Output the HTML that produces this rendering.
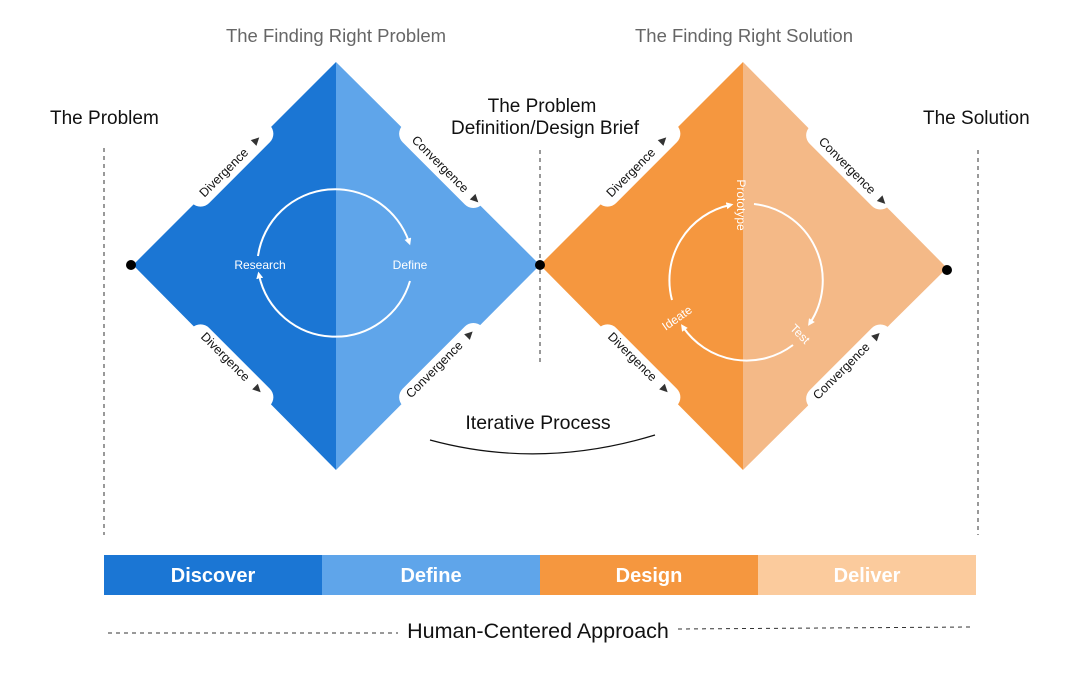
<!DOCTYPE html>
<html><head><meta charset="utf-8"><style>
html,body{margin:0;padding:0;background:#fff;}
svg{display:block;font-family:"Liberation Sans",sans-serif;}
</style></head><body>
<svg width="1073" height="675" viewBox="0 0 1073 675" xmlns="http://www.w3.org/2000/svg">
<defs>
<marker id="wa" viewBox="0 0 10 10" refX="5" refY="5" markerWidth="3.5" markerHeight="3.5" orient="auto"><path d="M0,0 L10,5 L0,10 z" fill="#fff"/></marker>
</defs>
<polygon points="133,265 336,62 336,470" fill="#1b76d4"/>
<polygon points="336,62 540,265 336,470" fill="#5fa5ea"/>
<polygon points="540,265 743,62 743,470" fill="#f5973f"/>
<polygon points="743,62 947,268 743,470" fill="#f4b987"/>

<g font-size="12.5" fill="#111" text-anchor="middle">
<g transform="translate(234.5,163.5) rotate(-45)"><rect x="-58" y="-30" width="110" height="40" rx="12" fill="#fff"/><text x="-14" y="3">Divergence</text><path d="M28,-5 l8,4 l-8,4z" fill="#333"/></g>
<g transform="translate(438,163.5) rotate(45)"><rect x="-52" y="-30" width="112" height="40" rx="12" fill="#fff"/><text x="2" y="3">Convergence</text><path d="M48,-5 l8,4 l-8,4z" fill="#333"/></g>
<g transform="translate(234.5,367.5) rotate(45)"><rect x="-58" y="-10" width="110" height="40" rx="12" fill="#fff"/><text x="-14" y="3">Divergence</text><path d="M28,-5 l8,4 l-8,4z" fill="#333"/></g>
<g transform="translate(438,367.5) rotate(-45)"><rect x="-52" y="-10" width="112" height="40" rx="12" fill="#fff"/><text x="-4" y="3">Convergence</text><path d="M42,-5 l8,4 l-8,4z" fill="#333"/></g>
<g transform="translate(641.5,163.5) rotate(-45)"><rect x="-58" y="-30" width="110" height="40" rx="12" fill="#fff"/><text x="-14" y="3">Divergence</text><path d="M28,-5 l8,4 l-8,4z" fill="#333"/></g>
<g transform="translate(845,165) rotate(45)"><rect x="-52" y="-30" width="112" height="40" rx="12" fill="#fff"/><text x="2" y="3">Convergence</text><path d="M48,-5 l8,4 l-8,4z" fill="#333"/></g>
<g transform="translate(641.5,367.5) rotate(45)"><rect x="-58" y="-10" width="110" height="40" rx="12" fill="#fff"/><text x="-14" y="3">Divergence</text><path d="M28,-5 l8,4 l-8,4z" fill="#333"/></g>
<g transform="translate(845,369) rotate(-45)"><rect x="-52" y="-10" width="112" height="40" rx="12" fill="#fff"/><text x="-4" y="3">Convergence</text><path d="M42,-5 l8,4 l-8,4z" fill="#333"/></g>
</g>

<g fill="none" stroke="#fff" stroke-width="2">
<path d="M258,256 A78,78 0 0 1 409,242" marker-end="url(#wa)"/>
<path d="M410,281 A78,78 0 0 1 259,275" marker-end="url(#wa)"/>
</g>
<g fill="#fff" font-size="12" text-anchor="middle">
<text x="260" y="269">Research</text><text x="410" y="269">Define</text>
</g>
<g fill="none" stroke="#fff" stroke-width="2">
<path d="M754,204 A77,77 0 0 1 810,323" marker-end="url(#wa)"/>
<path d="M793,345 A77,77 0 0 1 683,327" marker-end="url(#wa)"/>
<path d="M672,300 A77,77 0 0 1 730,205" marker-end="url(#wa)"/>
</g>
<g fill="#fff" font-size="12" text-anchor="middle">
<text transform="translate(741,205) rotate(90)" x="0" y="4">Prototype</text>
<text transform="translate(800,334) rotate(45)" x="0" y="4">Test</text>
<text transform="translate(677,318) rotate(-35)" x="0" y="4">Ideate</text>
</g>

<g stroke="#333" stroke-width="1" stroke-dasharray="4,4">
<line x1="104" y1="148" x2="104" y2="535"/>
<line x1="540" y1="150" x2="540" y2="365"/>
<line x1="978" y1="150" x2="978" y2="535"/>
<line x1="108" y1="633" x2="398" y2="633"/>
<line x1="678" y1="629" x2="970" y2="627"/>
</g>
<circle cx="131" cy="265" r="5" fill="#000"/>
<circle cx="540" cy="265" r="5" fill="#000"/>
<circle cx="947" cy="270" r="5" fill="#000"/>

<path d="M430,440 Q540,470 655,435" fill="none" stroke="#111" stroke-width="1.2"/>

<g font-size="19" fill="#111">
<text x="336" y="42" text-anchor="middle" fill="#666" font-size="18.5">The Finding Right Problem</text>
<text x="744" y="42" text-anchor="middle" fill="#666" font-size="18.5">The Finding Right Solution</text>
<text x="50" y="124">The Problem</text>
<text x="923" y="124">The Solution</text>
<text x="542" y="112" text-anchor="middle">The Problem</text>
<text x="545" y="134" text-anchor="middle">Definition/Design Brief</text>
<text x="538" y="429" text-anchor="middle" font-size="19.5">Iterative Process</text>
<text x="538" y="638" text-anchor="middle" font-size="21.5">Human-Centered Approach</text>
</g>

<rect x="104" y="555" width="218" height="40" fill="#1b76d4"/>
<rect x="322" y="555" width="218" height="40" fill="#5fa5ea"/>
<rect x="540" y="555" width="218" height="40" fill="#f5973f"/>
<rect x="758" y="555" width="218" height="40" fill="#fbcb9d"/>
<g fill="#fff" font-size="20" font-weight="bold" text-anchor="middle">
<text x="213" y="582">Discover</text><text x="431" y="582">Define</text>
<text x="649" y="582">Design</text><text x="867" y="582">Deliver</text>
</g>
</svg>
</body></html>
